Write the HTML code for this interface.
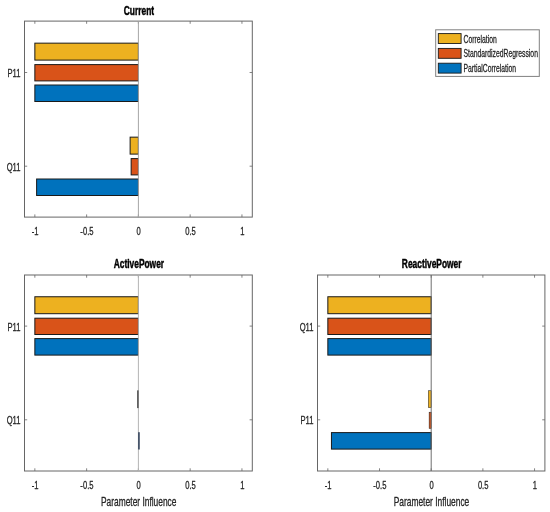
<!DOCTYPE html>
<html lang="en">
<head>
<meta charset="utf-8">
<title>Parameter Influence</title>
<style>
html,body{margin:0;padding:0;background:#fff;}
body{width:550px;height:512px;overflow:hidden;}
svg{display:block;font-family:'Liberation Sans', Arial, Helvetica, sans-serif;}
</style>
</head>
<body>
<svg width="550" height="512" viewBox="0 0 550 512">
<rect x="0" y="0" width="550" height="512" fill="#ffffff"/>
<rect x="24.50" y="21.10" width="227.80" height="196.00" fill="#fff" stroke="#666666" stroke-width="1"/>
<path d="M34.85 217.10v-2.7M34.85 21.10v2.7" stroke="#666666" stroke-width="0.8" fill="none"/>
<text transform="translate(35.15,235.10) scale(0.7,1)" font-size="10.9" text-anchor="middle" fill="#262626" stroke="#262626" stroke-width="0.3" stroke-linejoin="round">-1</text>
<path d="M86.63 217.10v-2.7M86.63 21.10v2.7" stroke="#666666" stroke-width="0.8" fill="none"/>
<text transform="translate(86.93,235.10) scale(0.7,1)" font-size="10.9" text-anchor="middle" fill="#262626" stroke="#262626" stroke-width="0.3" stroke-linejoin="round">-0.5</text>
<path d="M138.40 217.10v-2.7M138.40 21.10v2.7" stroke="#666666" stroke-width="0.8" fill="none"/>
<text transform="translate(138.70,235.10) scale(0.7,1)" font-size="10.9" text-anchor="middle" fill="#262626" stroke="#262626" stroke-width="0.3" stroke-linejoin="round">0</text>
<path d="M190.17 217.10v-2.7M190.17 21.10v2.7" stroke="#666666" stroke-width="0.8" fill="none"/>
<text transform="translate(190.47,235.10) scale(0.7,1)" font-size="10.9" text-anchor="middle" fill="#262626" stroke="#262626" stroke-width="0.3" stroke-linejoin="round">0.5</text>
<path d="M241.95 217.10v-2.7M241.95 21.10v2.7" stroke="#666666" stroke-width="0.8" fill="none"/>
<text transform="translate(242.25,235.10) scale(0.7,1)" font-size="10.9" text-anchor="middle" fill="#262626" stroke="#262626" stroke-width="0.3" stroke-linejoin="round">1</text>
<path d="M24.50 72.50h2.7M252.30 72.50h-2.7" stroke="#666666" stroke-width="0.8" fill="none"/>
<text transform="translate(20.50,77.00) scale(0.7,1)" font-size="10.9" text-anchor="end" fill="#262626" stroke="#262626" stroke-width="0.3" stroke-linejoin="round">P11</text>
<path d="M24.50 166.20h2.7M252.30 166.20h-2.7" stroke="#666666" stroke-width="0.8" fill="none"/>
<text transform="translate(20.50,170.70) scale(0.7,1)" font-size="10.9" text-anchor="end" fill="#262626" stroke="#262626" stroke-width="0.3" stroke-linejoin="round">Q11</text>
<rect x="34.85" y="43.15" width="103.55" height="16.95" fill="#EDB120" stroke="#1a1a1a" stroke-width="1"/>
<rect x="34.85" y="64.60" width="103.55" height="16.30" fill="#D95319" stroke="#1a1a1a" stroke-width="1"/>
<rect x="34.85" y="85.00" width="103.55" height="16.50" fill="#0072BD" stroke="#1a1a1a" stroke-width="1"/>
<rect x="130.12" y="137.15" width="8.28" height="16.95" fill="#EDB120" stroke="#1a1a1a" stroke-width="1"/>
<rect x="131.15" y="158.60" width="7.25" height="16.30" fill="#D95319" stroke="#1a1a1a" stroke-width="1"/>
<rect x="36.61" y="179.00" width="101.79" height="16.50" fill="#0072BD" stroke="#1a1a1a" stroke-width="1"/>
<path d="M138.40 21.10V217.10" stroke="#a6a6a6" stroke-width="1" fill="none"/>
<text transform="translate(138.90,14.80) scale(0.7,1)" font-size="12" text-anchor="middle" font-weight="bold" fill="#000" stroke="#000" stroke-width="0.45" stroke-linejoin="round">Current</text>
<rect x="24.50" y="275.00" width="227.80" height="196.00" fill="#fff" stroke="#666666" stroke-width="1"/>
<path d="M34.85 471.00v-2.7M34.85 275.00v2.7" stroke="#666666" stroke-width="0.8" fill="none"/>
<text transform="translate(35.15,489.00) scale(0.7,1)" font-size="10.9" text-anchor="middle" fill="#262626" stroke="#262626" stroke-width="0.3" stroke-linejoin="round">-1</text>
<path d="M86.63 471.00v-2.7M86.63 275.00v2.7" stroke="#666666" stroke-width="0.8" fill="none"/>
<text transform="translate(86.93,489.00) scale(0.7,1)" font-size="10.9" text-anchor="middle" fill="#262626" stroke="#262626" stroke-width="0.3" stroke-linejoin="round">-0.5</text>
<path d="M138.40 471.00v-2.7M138.40 275.00v2.7" stroke="#666666" stroke-width="0.8" fill="none"/>
<text transform="translate(138.70,489.00) scale(0.7,1)" font-size="10.9" text-anchor="middle" fill="#262626" stroke="#262626" stroke-width="0.3" stroke-linejoin="round">0</text>
<path d="M190.17 471.00v-2.7M190.17 275.00v2.7" stroke="#666666" stroke-width="0.8" fill="none"/>
<text transform="translate(190.47,489.00) scale(0.7,1)" font-size="10.9" text-anchor="middle" fill="#262626" stroke="#262626" stroke-width="0.3" stroke-linejoin="round">0.5</text>
<path d="M241.95 471.00v-2.7M241.95 275.00v2.7" stroke="#666666" stroke-width="0.8" fill="none"/>
<text transform="translate(242.25,489.00) scale(0.7,1)" font-size="10.9" text-anchor="middle" fill="#262626" stroke="#262626" stroke-width="0.3" stroke-linejoin="round">1</text>
<path d="M24.50 326.10h2.7M252.30 326.10h-2.7" stroke="#666666" stroke-width="0.8" fill="none"/>
<text transform="translate(20.50,330.60) scale(0.7,1)" font-size="10.9" text-anchor="end" fill="#262626" stroke="#262626" stroke-width="0.3" stroke-linejoin="round">P11</text>
<path d="M24.50 419.80h2.7M252.30 419.80h-2.7" stroke="#666666" stroke-width="0.8" fill="none"/>
<text transform="translate(20.50,424.30) scale(0.7,1)" font-size="10.9" text-anchor="end" fill="#262626" stroke="#262626" stroke-width="0.3" stroke-linejoin="round">Q11</text>
<rect x="34.85" y="296.75" width="103.55" height="16.95" fill="#EDB120" stroke="#1a1a1a" stroke-width="1"/>
<rect x="34.85" y="318.20" width="103.55" height="16.30" fill="#D95319" stroke="#1a1a1a" stroke-width="1"/>
<rect x="34.85" y="338.60" width="103.55" height="16.50" fill="#0072BD" stroke="#1a1a1a" stroke-width="1"/>
<path d="M138.40 275.00V471.00" stroke="#b4b4b4" stroke-width="1" fill="none"/>
<rect x="137.10" y="390.35" width="1.5" height="17.75" fill="#505050"/>
<rect x="138.20" y="432.20" width="1.5" height="17.30" fill="#2a3b55"/>
<text transform="translate(138.90,268.40) scale(0.7,1)" font-size="12" text-anchor="middle" font-weight="bold" fill="#000" stroke="#000" stroke-width="0.45" stroke-linejoin="round">ActivePower</text>
<text transform="translate(138.70,505.80) scale(0.7,1)" font-size="12" text-anchor="middle" fill="#262626" stroke="#262626" stroke-width="0.3" stroke-linejoin="round">Parameter Influence</text>
<rect x="317.50" y="275.00" width="227.40" height="196.00" fill="#fff" stroke="#666666" stroke-width="1"/>
<path d="M327.84 471.00v-2.7M327.84 275.00v2.7" stroke="#666666" stroke-width="0.8" fill="none"/>
<text transform="translate(328.14,489.00) scale(0.7,1)" font-size="10.9" text-anchor="middle" fill="#262626" stroke="#262626" stroke-width="0.3" stroke-linejoin="round">-1</text>
<path d="M379.52 471.00v-2.7M379.52 275.00v2.7" stroke="#666666" stroke-width="0.8" fill="none"/>
<text transform="translate(379.82,489.00) scale(0.7,1)" font-size="10.9" text-anchor="middle" fill="#262626" stroke="#262626" stroke-width="0.3" stroke-linejoin="round">-0.5</text>
<path d="M431.20 471.00v-2.7M431.20 275.00v2.7" stroke="#666666" stroke-width="0.8" fill="none"/>
<text transform="translate(431.50,489.00) scale(0.7,1)" font-size="10.9" text-anchor="middle" fill="#262626" stroke="#262626" stroke-width="0.3" stroke-linejoin="round">0</text>
<path d="M482.88 471.00v-2.7M482.88 275.00v2.7" stroke="#666666" stroke-width="0.8" fill="none"/>
<text transform="translate(483.18,489.00) scale(0.7,1)" font-size="10.9" text-anchor="middle" fill="#262626" stroke="#262626" stroke-width="0.3" stroke-linejoin="round">0.5</text>
<path d="M534.56 471.00v-2.7M534.56 275.00v2.7" stroke="#666666" stroke-width="0.8" fill="none"/>
<text transform="translate(534.86,489.00) scale(0.7,1)" font-size="10.9" text-anchor="middle" fill="#262626" stroke="#262626" stroke-width="0.3" stroke-linejoin="round">1</text>
<path d="M317.50 326.10h2.7M544.90 326.10h-2.7" stroke="#666666" stroke-width="0.8" fill="none"/>
<text transform="translate(313.50,330.60) scale(0.7,1)" font-size="10.9" text-anchor="end" fill="#262626" stroke="#262626" stroke-width="0.3" stroke-linejoin="round">Q11</text>
<path d="M317.50 419.80h2.7M544.90 419.80h-2.7" stroke="#666666" stroke-width="0.8" fill="none"/>
<text transform="translate(313.50,424.30) scale(0.7,1)" font-size="10.9" text-anchor="end" fill="#262626" stroke="#262626" stroke-width="0.3" stroke-linejoin="round">P11</text>
<rect x="327.84" y="296.75" width="103.36" height="16.95" fill="#EDB120" stroke="#1a1a1a" stroke-width="1"/>
<rect x="327.84" y="318.20" width="103.36" height="16.30" fill="#D95319" stroke="#1a1a1a" stroke-width="1"/>
<rect x="327.84" y="338.60" width="103.36" height="16.50" fill="#0072BD" stroke="#1a1a1a" stroke-width="1"/>
<rect x="428.31" y="390.75" width="2.89" height="16.95" fill="#EDB120" stroke="#1a1a1a" stroke-width="0.5"/>
<rect x="429.13" y="412.20" width="2.07" height="16.30" fill="#D95319" stroke="#1a1a1a" stroke-width="0.5"/>
<rect x="331.45" y="432.60" width="99.75" height="16.50" fill="#0072BD" stroke="#1a1a1a" stroke-width="1"/>
<path d="M431.20 275.00V471.00" stroke="#6e6e6e" stroke-width="1" fill="none"/>
<text transform="translate(431.70,268.40) scale(0.7,1)" font-size="12" text-anchor="middle" font-weight="bold" fill="#000" stroke="#000" stroke-width="0.45" stroke-linejoin="round">ReactivePower</text>
<text transform="translate(431.50,505.80) scale(0.7,1)" font-size="12" text-anchor="middle" fill="#262626" stroke="#262626" stroke-width="0.3" stroke-linejoin="round">Parameter Influence</text>
<rect x="435.7" y="29.8" width="103.6" height="46.6" fill="#fff" stroke="#808080" stroke-width="1"/>
<rect x="438.3" y="33.60" width="22.8" height="9.9" fill="#EDB120" stroke="#1a1a1a" stroke-width="0.9"/>
<text transform="translate(463.50,42.50) scale(0.63,1)" font-size="10.8" text-anchor="start" fill="#262626" stroke="#262626" stroke-width="0.3" stroke-linejoin="round">Correlation</text>
<rect x="438.3" y="48.40" width="22.8" height="9.9" fill="#D95319" stroke="#1a1a1a" stroke-width="0.9"/>
<text transform="translate(463.50,57.30) scale(0.63,1)" font-size="10.8" text-anchor="start" fill="#262626" stroke="#262626" stroke-width="0.3" stroke-linejoin="round">StandardizedRegression</text>
<rect x="438.3" y="63.20" width="22.8" height="9.9" fill="#0072BD" stroke="#1a1a1a" stroke-width="0.9"/>
<text transform="translate(463.50,72.10) scale(0.63,1)" font-size="10.8" text-anchor="start" fill="#262626" stroke="#262626" stroke-width="0.3" stroke-linejoin="round">PartialCorrelation</text>
</svg>
</body>
</html>
